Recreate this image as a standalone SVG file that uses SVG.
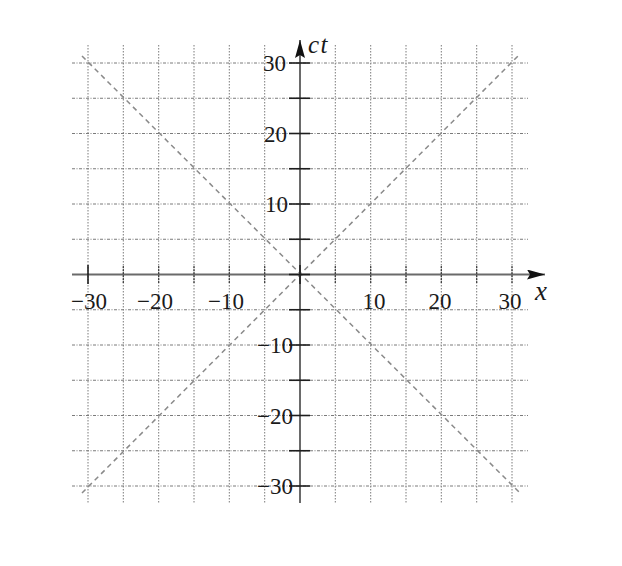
<svg xmlns="http://www.w3.org/2000/svg" width="622" height="566" viewBox="0 0 622 566">
<defs>
<style>
.vg{stroke:#7a7a7a;stroke-width:1;stroke-dasharray:1.5 1.5;fill:none}
.hg{stroke:#7a7a7a;stroke-width:1;stroke-dasharray:3 1.5 1 1.5;fill:none}
.diag{stroke:#8a8a8a;stroke-width:1.5;stroke-dasharray:5 4;fill:none}
.axis{stroke:#6a6a6a;stroke-width:2;fill:none}
.tick{stroke:#1e1e1e;stroke-width:1.6;fill:none}
.xtick{stroke:#3a3a3a;stroke-width:1.2;stroke-dasharray:2 1;fill:none}
.lbl{font-family:"Liberation Serif","Times New Roman",serif;font-size:23px;fill:#1a1a1a}
.it{font-family:"Liberation Serif","Times New Roman",serif;font-style:italic;fill:#1a1a1a}
</style>
<marker id="ah" viewBox="0 0 18 10" refX="18" refY="5" markerWidth="18" markerHeight="10" markerUnits="userSpaceOnUse" orient="auto">
<path d="M0,0 L18,5 L0,10 L3,5 Z" fill="#111"/>
</marker>
</defs>
<rect width="622" height="566" fill="#fff"/>
<g id="grid">
<line class="vg" x1="88" y1="45" x2="88" y2="503"/>
<line class="vg" x1="123.3" y1="45" x2="123.3" y2="503"/>
<line class="vg" x1="158.7" y1="45" x2="158.7" y2="503"/>
<line class="vg" x1="194" y1="45" x2="194" y2="503"/>
<line class="vg" x1="229.3" y1="45" x2="229.3" y2="503"/>
<line class="vg" x1="264.7" y1="45" x2="264.7" y2="503"/>
<line class="vg" x1="335.3" y1="45" x2="335.3" y2="503"/>
<line class="vg" x1="370.7" y1="45" x2="370.7" y2="503"/>
<line class="vg" x1="406" y1="45" x2="406" y2="503"/>
<line class="vg" x1="441.3" y1="45" x2="441.3" y2="503"/>
<line class="vg" x1="476.7" y1="45" x2="476.7" y2="503"/>
<line class="vg" x1="512" y1="45" x2="512" y2="503"/>
<line class="hg" x1="72" y1="63" x2="528" y2="63"/>
<line class="hg" x1="72" y1="98.25" x2="528" y2="98.25"/>
<line class="hg" x1="72" y1="133.5" x2="528" y2="133.5"/>
<line class="hg" x1="72" y1="168.75" x2="528" y2="168.75"/>
<line class="hg" x1="72" y1="204" x2="528" y2="204"/>
<line class="hg" x1="72" y1="239.25" x2="528" y2="239.25"/>
<line class="hg" x1="72" y1="309.75" x2="528" y2="309.75"/>
<line class="hg" x1="72" y1="345" x2="528" y2="345"/>
<line class="hg" x1="72" y1="380.25" x2="528" y2="380.25"/>
<line class="hg" x1="72" y1="415.5" x2="528" y2="415.5"/>
<line class="hg" x1="72" y1="450.75" x2="528" y2="450.75"/>
<line class="hg" x1="72" y1="486" x2="528" y2="486"/>
</g>
<g id="lightlines">
<line class="diag" x1="82" y1="56" x2="521" y2="494"/>
<line class="diag" x1="82" y1="493" x2="519" y2="55"/>
</g>
<g id="axes">
<line class="axis" x1="72" y1="274.5" x2="545" y2="274.5" marker-end="url(#ah)"/>
<line class="axis" x1="300" y1="503" x2="300" y2="40" marker-end="url(#ah)"/>
</g>
<g id="ticks">
<line class="tick" x1="88" y1="265" x2="88" y2="284"/>
<line class="tick" x1="300" y1="265" x2="300" y2="284"/>
<line class="xtick" x1="123.3" y1="266" x2="123.3" y2="283"/>
<line class="xtick" x1="158.7" y1="266" x2="158.7" y2="283"/>
<line class="xtick" x1="194" y1="266" x2="194" y2="283"/>
<line class="xtick" x1="229.3" y1="266" x2="229.3" y2="283"/>
<line class="xtick" x1="264.7" y1="266" x2="264.7" y2="283"/>
<line class="xtick" x1="335.3" y1="266" x2="335.3" y2="283"/>
<line class="xtick" x1="370.7" y1="266" x2="370.7" y2="283"/>
<line class="xtick" x1="406" y1="266" x2="406" y2="283"/>
<line class="xtick" x1="441.3" y1="266" x2="441.3" y2="283"/>
<line class="xtick" x1="476.7" y1="266" x2="476.7" y2="283"/>
<line class="xtick" x1="512" y1="266" x2="512" y2="283"/>
<line class="tick" x1="289" y1="63" x2="310" y2="63"/>
<line class="tick" x1="289" y1="98.25" x2="310" y2="98.25"/>
<line class="tick" x1="289" y1="133.5" x2="310" y2="133.5"/>
<line class="tick" x1="289" y1="168.75" x2="310" y2="168.75"/>
<line class="tick" x1="289" y1="204" x2="310" y2="204"/>
<line class="tick" x1="289" y1="239.25" x2="310" y2="239.25"/>
<line class="tick" x1="289" y1="274.5" x2="310" y2="274.5"/>
<line class="tick" x1="289" y1="309.75" x2="310" y2="309.75"/>
<line class="tick" x1="289" y1="345" x2="310" y2="345"/>
<line class="tick" x1="289" y1="380.25" x2="310" y2="380.25"/>
<line class="tick" x1="289" y1="415.5" x2="310" y2="415.5"/>
<line class="tick" x1="289" y1="450.75" x2="310" y2="450.75"/>
<line class="tick" x1="289" y1="486" x2="310" y2="486"/>
</g>
<g id="labels">
<text class="lbl" x="89" y="308.5" text-anchor="middle">−30</text>
<text class="lbl" x="155" y="308.5" text-anchor="middle">−20</text>
<text class="lbl" x="226" y="308.5" text-anchor="middle">−10</text>
<text class="lbl" x="374" y="309" text-anchor="middle">10</text>
<text class="lbl" x="440" y="309" text-anchor="middle">20</text>
<text class="lbl" x="510" y="309" text-anchor="middle">30</text>
<text class="lbl" x="286" y="71" text-anchor="end">30</text>
<text class="lbl" x="287" y="141.5" text-anchor="end">20</text>
<text class="lbl" x="288" y="212" text-anchor="end">10</text>
<text class="lbl" x="293" y="353" text-anchor="end">−10</text>
<text class="lbl" x="293" y="423.5" text-anchor="end">−20</text>
<text class="lbl" x="293" y="494" text-anchor="end">−30</text>
<text class="it" x="308" y="53" font-size="25" letter-spacing="1.5">ct</text>
<text class="it" x="535" y="299.5" font-size="27">x</text>
</g>
</svg>
